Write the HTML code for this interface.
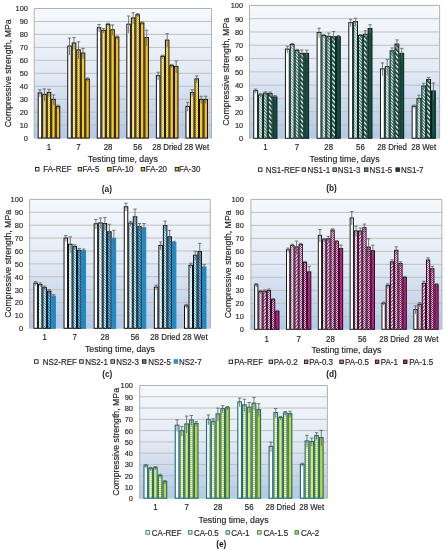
<!DOCTYPE html>
<html><head><meta charset="utf-8"><style>
html,body{margin:0;padding:0;background:#fff;width:446px;height:550px;overflow:hidden;}
svg{display:block;will-change:transform;}
text{stroke:#2a2a2a;stroke-width:0.16px;font-family:"Liberation Sans", sans-serif;}
</style></head><body>
<svg width="446" height="550" viewBox="0 0 446 550" font-family="'Liberation Sans', sans-serif"><defs>
<linearGradient id="bg" x1="0" y1="0" x2="0" y2="1">
 <stop offset="0" stop-color="#f6f9fc"/>
 <stop offset="0.5" stop-color="#e2eaf5"/>
 <stop offset="1" stop-color="#b4c8e4"/>
</linearGradient>
<pattern id="pa1" width="2" height="2" patternUnits="userSpaceOnUse"><rect width="2" height="2" fill="#f9e07a"/><rect width="1" height="1" fill="#f2cc48"/></pattern>
<pattern id="pa2" width="2" height="2" patternUnits="userSpaceOnUse"><rect width="2" height="2" fill="#efbc10"/><rect width="1" height="1" fill="#fae27a"/><rect x="1" y="1" width="1" height="1" fill="#fae27a"/></pattern>
<pattern id="pb1" width="2" height="2" patternUnits="userSpaceOnUse" patternTransform="rotate(-45)"><rect width="2" height="2" fill="#f0f8f5"/><rect width="0.8" height="2" fill="#58a08c"/></pattern>
<pattern id="pb2" width="2.2" height="2.2" patternUnits="userSpaceOnUse" patternTransform="rotate(-45)"><rect width="2.2" height="2.2" fill="#f2f8f6"/><rect width="1.2" height="2.2" fill="#2f7d69"/></pattern>
<pattern id="pb3" width="3.3" height="3.3" patternUnits="userSpaceOnUse" patternTransform="rotate(-45)"><rect width="3.3" height="3.3" fill="#f4f8f6"/><rect width="2" height="3.3" fill="#145848"/></pattern>
<pattern id="pc1" width="2.2" height="2.2" patternUnits="userSpaceOnUse" patternTransform="rotate(-45)"><rect width="2.2" height="2.2" fill="#f7fcfe"/><rect width="0.6" height="2.2" fill="#7cc9e6"/></pattern>
<pattern id="pc2" width="1.8" height="1.8" patternUnits="userSpaceOnUse" patternTransform="rotate(-45)"><rect width="1.8" height="1.8" fill="#e6f5fb"/><rect width="0.9" height="1.8" fill="#2ea6d6"/></pattern>
<pattern id="pc3" width="2" height="2" patternUnits="userSpaceOnUse" patternTransform="rotate(-45)"><rect width="2" height="2" fill="#1a74b0"/><rect width="0.65" height="2" fill="#a8dcf0"/></pattern>
<pattern id="pd1" width="1.7" height="1.7" patternUnits="userSpaceOnUse" patternTransform="rotate(-45)"><rect width="1.7" height="1.7" fill="#fdf2f8"/><rect width="0.65" height="1.7" fill="#dc62ae"/></pattern>
<pattern id="pd2" width="2.4" height="2.4" patternUnits="userSpaceOnUse" patternTransform="rotate(45)"><rect width="2.4" height="2.4" fill="#fdf4f9"/><rect width="1.2" height="2.4" fill="#c81c8a"/></pattern>
<pattern id="pd3" width="2" height="2" patternUnits="userSpaceOnUse"><rect width="2" height="2" fill="#fbe0f0"/><rect width="1" height="1" fill="#d6309a"/><rect x="1" y="1" width="1" height="1" fill="#d6309a"/></pattern>
<pattern id="pd4" width="2" height="2" patternUnits="userSpaceOnUse"><rect width="2" height="2" fill="#f0acd6"/><rect width="1" height="1" fill="#c41c88"/><rect x="1" y="1" width="1" height="1" fill="#c41c88"/></pattern>
<pattern id="pe1" width="2" height="2" patternUnits="userSpaceOnUse"><rect width="2" height="2" fill="#fbfbe8"/><rect width="2" height="1" fill="#dfe660"/></pattern>
<pattern id="pe2" width="2" height="2" patternUnits="userSpaceOnUse"><rect width="2" height="2" fill="#f6f7d2"/><rect width="2" height="1.1" fill="#cfdc3c"/></pattern>
</defs><rect width="446" height="550" fill="#fff"/><rect x="34.2" y="8.5" width="177.3" height="130" fill="url(#bg)"/>
<line x1="34.2" y1="125.14" x2="211.5" y2="125.14" stroke="#c0c0c0" stroke-width="1"/>
<line x1="34.2" y1="112.18" x2="211.5" y2="112.18" stroke="#c0c0c0" stroke-width="1"/>
<line x1="34.2" y1="99.22" x2="211.5" y2="99.22" stroke="#c0c0c0" stroke-width="1"/>
<line x1="34.2" y1="86.26" x2="211.5" y2="86.26" stroke="#c0c0c0" stroke-width="1"/>
<line x1="34.2" y1="73.3" x2="211.5" y2="73.3" stroke="#c0c0c0" stroke-width="1"/>
<line x1="34.2" y1="60.34" x2="211.5" y2="60.34" stroke="#c0c0c0" stroke-width="1"/>
<line x1="34.2" y1="47.38" x2="211.5" y2="47.38" stroke="#c0c0c0" stroke-width="1"/>
<line x1="34.2" y1="34.42" x2="211.5" y2="34.42" stroke="#c0c0c0" stroke-width="1"/>
<line x1="34.2" y1="21.46" x2="211.5" y2="21.46" stroke="#c0c0c0" stroke-width="1"/>
<path d="M34.2 138.5V8.5H211.5V138.5" fill="none" stroke="#a9a9a9" stroke-width="0.9"/>
<text transform="translate(28,141) scale(0.93,1)" font-size="8.06" text-anchor="end" fill="#262626">0</text>
<text transform="translate(28,128.04) scale(0.93,1)" font-size="8.06" text-anchor="end" fill="#262626">10</text>
<text transform="translate(28,115.08) scale(0.93,1)" font-size="8.06" text-anchor="end" fill="#262626">20</text>
<text transform="translate(28,102.12) scale(0.93,1)" font-size="8.06" text-anchor="end" fill="#262626">30</text>
<text transform="translate(28,89.16) scale(0.93,1)" font-size="8.06" text-anchor="end" fill="#262626">40</text>
<text transform="translate(28,76.2) scale(0.93,1)" font-size="8.06" text-anchor="end" fill="#262626">50</text>
<text transform="translate(28,63.24) scale(0.93,1)" font-size="8.06" text-anchor="end" fill="#262626">60</text>
<text transform="translate(28,50.28) scale(0.93,1)" font-size="8.06" text-anchor="end" fill="#262626">70</text>
<text transform="translate(28,37.32) scale(0.93,1)" font-size="8.06" text-anchor="end" fill="#262626">80</text>
<text transform="translate(28,24.36) scale(0.93,1)" font-size="8.06" text-anchor="end" fill="#262626">90</text>
<text transform="translate(28,11.4) scale(0.93,1)" font-size="8.06" text-anchor="end" fill="#262626">100</text>
<text transform="translate(10.66,73.3) rotate(-90) scale(0.93,1)" font-size="9.41" text-anchor="middle" fill="#1a1a1a">Compressive strength, MPa</text>
<rect x="38.2" y="92.85" width="3.51" height="45.25" fill="#ffffff" stroke="#111111" stroke-width="1"/>
<rect x="42.71" y="94.41" width="3.51" height="43.69" fill="url(#pa1)" stroke="#111111" stroke-width="1"/>
<rect x="47.22" y="92.46" width="3.51" height="45.64" fill="url(#pa2)" stroke="#111111" stroke-width="1"/>
<rect x="51.73" y="99.33" width="3.51" height="38.77" fill="#f8ca20" stroke="#111111" stroke-width="1"/>
<rect x="56.24" y="106.46" width="3.51" height="31.64" fill="#f4bd22" stroke="#111111" stroke-width="1"/>
<path d="M39.95 96.94V89.76M38.25 89.76H41.65" stroke="#646464" stroke-width="0.85" fill="none"/>
<path d="M44.46 100.96V88.85M42.76 88.85H46.16" stroke="#646464" stroke-width="0.85" fill="none"/>
<path d="M48.98 96.55V89.37M47.28 89.37H50.68" stroke="#646464" stroke-width="0.85" fill="none"/>
<path d="M53.49 104.72V94.94M51.79 94.94H55.19" stroke="#646464" stroke-width="0.85" fill="none"/>
<path d="M58 108.74V105.18M56.3 105.18H59.7" stroke="#646464" stroke-width="0.85" fill="none"/>
<text transform="translate(48.98,150.2) scale(0.93,1)" font-size="8.49" text-anchor="middle" fill="#1a1a1a">1</text>
<rect x="67.75" y="46.07" width="3.51" height="92.03" fill="#ffffff" stroke="#111111" stroke-width="1"/>
<rect x="72.26" y="42.96" width="3.51" height="95.14" fill="url(#pa1)" stroke="#111111" stroke-width="1"/>
<rect x="76.77" y="49.82" width="3.51" height="88.28" fill="url(#pa2)" stroke="#111111" stroke-width="1"/>
<rect x="81.28" y="53.06" width="3.51" height="85.04" fill="#f8ca20" stroke="#111111" stroke-width="1"/>
<rect x="85.79" y="79.11" width="3.51" height="58.99" fill="#f4bd22" stroke="#111111" stroke-width="1"/>
<path d="M69.5 55.08V38.05M67.8 38.05H71.2" stroke="#646464" stroke-width="0.85" fill="none"/>
<path d="M74.01 49.38V37.53M72.31 37.53H75.71" stroke="#646464" stroke-width="0.85" fill="none"/>
<path d="M78.53 58.84V41.81M76.83 41.81H80.23" stroke="#646464" stroke-width="0.85" fill="none"/>
<path d="M83.04 58.71V48.42M81.34 48.42H84.74" stroke="#646464" stroke-width="0.85" fill="none"/>
<path d="M87.55 81.26V77.97M85.85 77.97H89.25" stroke="#646464" stroke-width="0.85" fill="none"/>
<text transform="translate(78.53,150.2) scale(0.93,1)" font-size="8.49" text-anchor="middle" fill="#1a1a1a">7</text>
<rect x="97.3" y="27.66" width="3.51" height="110.44" fill="#ffffff" stroke="#111111" stroke-width="1"/>
<rect x="101.81" y="30.38" width="3.51" height="107.72" fill="url(#pa1)" stroke="#111111" stroke-width="1"/>
<rect x="106.32" y="24.29" width="3.51" height="113.81" fill="url(#pa2)" stroke="#111111" stroke-width="1"/>
<rect x="110.83" y="29.74" width="3.51" height="108.36" fill="#f8ca20" stroke="#111111" stroke-width="1"/>
<rect x="115.34" y="37.12" width="3.51" height="100.98" fill="#f4bd22" stroke="#111111" stroke-width="1"/>
<path d="M99.05 31.88V24.44M97.35 24.44H100.75" stroke="#646464" stroke-width="0.85" fill="none"/>
<path d="M103.56 33.18V28.59M101.86 28.59H105.26" stroke="#646464" stroke-width="0.85" fill="none"/>
<path d="M108.08 26.31V23.27M106.38 23.27H109.78" stroke="#646464" stroke-width="0.85" fill="none"/>
<path d="M112.59 35.51V24.96M110.89 24.96H114.29" stroke="#646464" stroke-width="0.85" fill="none"/>
<path d="M117.1 39.27V35.98M115.4 35.98H118.8" stroke="#646464" stroke-width="0.85" fill="none"/>
<text transform="translate(108.08,150.2) scale(0.93,1)" font-size="8.49" text-anchor="middle" fill="#1a1a1a">28</text>
<rect x="126.85" y="24.16" width="3.51" height="113.94" fill="#ffffff" stroke="#111111" stroke-width="1"/>
<rect x="131.36" y="17.94" width="3.51" height="120.16" fill="url(#pa1)" stroke="#111111" stroke-width="1"/>
<rect x="135.87" y="14.7" width="3.51" height="123.4" fill="url(#pa2)" stroke="#111111" stroke-width="1"/>
<rect x="140.38" y="23" width="3.51" height="115.1" fill="#f8ca20" stroke="#111111" stroke-width="1"/>
<rect x="144.89" y="37.51" width="3.51" height="100.59" fill="#f4bd22" stroke="#111111" stroke-width="1"/>
<path d="M128.6 33.31V16.02M126.9 16.02H130.3" stroke="#646464" stroke-width="0.85" fill="none"/>
<path d="M133.11 24.11V12.78M131.41 12.78H134.81" stroke="#646464" stroke-width="0.85" fill="none"/>
<path d="M137.62 16.72V13.68M135.93 13.68H139.32" stroke="#646464" stroke-width="0.85" fill="none"/>
<path d="M142.14 25.02V21.98M140.44 21.98H143.84" stroke="#646464" stroke-width="0.85" fill="none"/>
<path d="M146.65 45.75V30.27M144.95 30.27H148.35" stroke="#646464" stroke-width="0.85" fill="none"/>
<text transform="translate(137.62,150.2) scale(0.93,1)" font-size="8.49" text-anchor="middle" fill="#1a1a1a">56</text>
<rect x="156.4" y="75.61" width="3.51" height="62.49" fill="#ffffff" stroke="#111111" stroke-width="1"/>
<rect x="160.91" y="56.3" width="3.51" height="81.8" fill="url(#pa1)" stroke="#111111" stroke-width="1"/>
<rect x="165.42" y="40.1" width="3.51" height="98" fill="url(#pa2)" stroke="#111111" stroke-width="1"/>
<rect x="169.93" y="65.64" width="3.51" height="72.46" fill="#f8ca20" stroke="#111111" stroke-width="1"/>
<rect x="174.44" y="66.41" width="3.51" height="71.69" fill="#f4bd22" stroke="#111111" stroke-width="1"/>
<path d="M158.15 79.97V72.26M156.45 72.26H159.85" stroke="#646464" stroke-width="0.85" fill="none"/>
<path d="M162.66 58.45V55.16M160.96 55.16H164.36" stroke="#646464" stroke-width="0.85" fill="none"/>
<path d="M167.18 47.57V33.64M165.48 33.64H168.88" stroke="#646464" stroke-width="0.85" fill="none"/>
<path d="M171.69 67.65V64.62M169.99 64.62H173.39" stroke="#646464" stroke-width="0.85" fill="none"/>
<path d="M176.2 72.84V60.99M174.5 60.99H177.9" stroke="#646464" stroke-width="0.85" fill="none"/>
<text transform="translate(167.18,150.2) scale(0.93,1)" font-size="8.49" text-anchor="middle" fill="#1a1a1a">28 Dried</text>
<rect x="185.95" y="106.46" width="3.51" height="31.64" fill="#ffffff" stroke="#111111" stroke-width="1"/>
<rect x="190.46" y="92.59" width="3.51" height="45.51" fill="url(#pa1)" stroke="#111111" stroke-width="1"/>
<rect x="194.97" y="78.85" width="3.51" height="59.25" fill="url(#pa2)" stroke="#111111" stroke-width="1"/>
<rect x="199.48" y="99.46" width="3.51" height="38.64" fill="#f8ca20" stroke="#111111" stroke-width="1"/>
<rect x="203.99" y="99.46" width="3.51" height="38.64" fill="#f4bd22" stroke="#111111" stroke-width="1"/>
<path d="M187.7 111.46V102.46M186 102.46H189.4" stroke="#646464" stroke-width="0.85" fill="none"/>
<path d="M192.21 96.42V89.76M190.51 89.76H193.91" stroke="#646464" stroke-width="0.85" fill="none"/>
<path d="M196.72 82.82V75.89M195.03 75.89H198.42" stroke="#646464" stroke-width="0.85" fill="none"/>
<path d="M201.24 103.68V96.24M199.54 96.24H202.94" stroke="#646464" stroke-width="0.85" fill="none"/>
<path d="M205.75 103.68V96.24M204.05 96.24H207.45" stroke="#646464" stroke-width="0.85" fill="none"/>
<text transform="translate(196.72,150.2) scale(0.93,1)" font-size="8.49" text-anchor="middle" fill="#1a1a1a">28 Wet</text>
<text transform="translate(122.85,162.4) scale(0.93,1)" font-size="9.41" text-anchor="middle" fill="#1a1a1a">Testing time, days</text>
<rect x="35.5" y="167.45" width="3.5" height="3.5" fill="#ffffff" stroke="#111111" stroke-width="0.85"/>
<text transform="translate(43.3,172.3) scale(0.93,1)" font-size="8.6" fill="#1a1a1a">FA-REF</text>
<rect x="78.2" y="167.45" width="3.5" height="3.5" fill="#f6dc78" stroke="#111111" stroke-width="0.85"/>
<text transform="translate(82.6,172.3) scale(0.93,1)" font-size="8.6" fill="#1a1a1a">FA-5</text>
<rect x="107.6" y="167.45" width="3.5" height="3.5" fill="#f2c63c" stroke="#111111" stroke-width="0.85"/>
<text transform="translate(112.2,172.3) scale(0.93,1)" font-size="8.6" fill="#1a1a1a">FA-10</text>
<rect x="141.2" y="167.45" width="3.5" height="3.5" fill="#f8ca20" stroke="#111111" stroke-width="0.85"/>
<text transform="translate(145.7,172.3) scale(0.93,1)" font-size="8.6" fill="#1a1a1a">FA-20</text>
<rect x="175.2" y="167.45" width="3.5" height="3.5" fill="#f4bd22" stroke="#111111" stroke-width="0.85"/>
<text transform="translate(179.1,172.3) scale(0.93,1)" font-size="8.6" fill="#1a1a1a">FA-30</text>
<text x="101.8" y="191.6" font-size="8.3" font-weight="bold" font-family='Liberation Serif, serif' fill="#1a1a1a" style="stroke:none">(a)</text>
<rect x="249.5" y="5.4" width="190.1" height="133.3" fill="url(#bg)"/>
<line x1="249.5" y1="125.01" x2="439.6" y2="125.01" stroke="#c0c0c0" stroke-width="1"/>
<line x1="249.5" y1="111.72" x2="439.6" y2="111.72" stroke="#c0c0c0" stroke-width="1"/>
<line x1="249.5" y1="98.43" x2="439.6" y2="98.43" stroke="#c0c0c0" stroke-width="1"/>
<line x1="249.5" y1="85.14" x2="439.6" y2="85.14" stroke="#c0c0c0" stroke-width="1"/>
<line x1="249.5" y1="71.85" x2="439.6" y2="71.85" stroke="#c0c0c0" stroke-width="1"/>
<line x1="249.5" y1="58.56" x2="439.6" y2="58.56" stroke="#c0c0c0" stroke-width="1"/>
<line x1="249.5" y1="45.27" x2="439.6" y2="45.27" stroke="#c0c0c0" stroke-width="1"/>
<line x1="249.5" y1="31.98" x2="439.6" y2="31.98" stroke="#c0c0c0" stroke-width="1"/>
<line x1="249.5" y1="18.69" x2="439.6" y2="18.69" stroke="#c0c0c0" stroke-width="1"/>
<path d="M249.5 138.7V5.4H439.6V138.7" fill="none" stroke="#a9a9a9" stroke-width="0.9"/>
<text transform="translate(243.2,141.2) scale(0.93,1)" font-size="8.06" text-anchor="end" fill="#262626">0</text>
<text transform="translate(243.2,127.91) scale(0.93,1)" font-size="8.06" text-anchor="end" fill="#262626">10</text>
<text transform="translate(243.2,114.62) scale(0.93,1)" font-size="8.06" text-anchor="end" fill="#262626">20</text>
<text transform="translate(243.2,101.33) scale(0.93,1)" font-size="8.06" text-anchor="end" fill="#262626">30</text>
<text transform="translate(243.2,88.04) scale(0.93,1)" font-size="8.06" text-anchor="end" fill="#262626">40</text>
<text transform="translate(243.2,74.75) scale(0.93,1)" font-size="8.06" text-anchor="end" fill="#262626">50</text>
<text transform="translate(243.2,61.46) scale(0.93,1)" font-size="8.06" text-anchor="end" fill="#262626">60</text>
<text transform="translate(243.2,48.17) scale(0.93,1)" font-size="8.06" text-anchor="end" fill="#262626">70</text>
<text transform="translate(243.2,34.88) scale(0.93,1)" font-size="8.06" text-anchor="end" fill="#262626">80</text>
<text transform="translate(243.2,21.59) scale(0.93,1)" font-size="8.06" text-anchor="end" fill="#262626">90</text>
<text transform="translate(243.2,8.3) scale(0.93,1)" font-size="8.06" text-anchor="end" fill="#262626">100</text>
<text transform="translate(228.86,71.85) rotate(-90) scale(0.93,1)" font-size="9.41" text-anchor="middle" fill="#1a1a1a">Compressive strength, MPa</text>
<rect x="253.75" y="90.69" width="3.84" height="47.61" fill="#ffffff" stroke="#0f1f1a" stroke-width="1"/>
<rect x="258.59" y="94.94" width="3.84" height="43.36" fill="url(#pb1)" stroke="#0f1f1a" stroke-width="1"/>
<rect x="263.42" y="93.22" width="3.84" height="45.08" fill="url(#pb2)" stroke="#0f1f1a" stroke-width="1"/>
<rect x="268.26" y="93.61" width="3.84" height="44.69" fill="url(#pb3)" stroke="#0f1f1a" stroke-width="1"/>
<rect x="273.1" y="96.94" width="3.84" height="41.36" fill="#124f42" stroke="#0f1f1a" stroke-width="1"/>
<path d="M255.67 93.25V89.13M253.97 89.13H257.37" stroke="#646464" stroke-width="0.85" fill="none"/>
<path d="M260.5 97.24V93.65M258.8 93.65H262.2" stroke="#646464" stroke-width="0.85" fill="none"/>
<path d="M265.34 95.65V91.79M263.64 91.79H267.04" stroke="#646464" stroke-width="0.85" fill="none"/>
<path d="M270.18 96.18V92.05M268.48 92.05H271.88" stroke="#646464" stroke-width="0.85" fill="none"/>
<path d="M275.02 99.37V95.51M273.32 95.51H276.72" stroke="#646464" stroke-width="0.85" fill="none"/>
<text transform="translate(265.34,150.3) scale(0.93,1)" font-size="8.49" text-anchor="middle" fill="#1a1a1a">1</text>
<rect x="285.43" y="49.09" width="3.84" height="89.21" fill="#ffffff" stroke="#0f1f1a" stroke-width="1"/>
<rect x="290.27" y="44.44" width="3.84" height="93.86" fill="url(#pb1)" stroke="#0f1f1a" stroke-width="1"/>
<rect x="295.11" y="50.55" width="3.84" height="87.75" fill="url(#pb2)" stroke="#0f1f1a" stroke-width="1"/>
<rect x="299.94" y="53.35" width="3.84" height="84.95" fill="url(#pb3)" stroke="#0f1f1a" stroke-width="1"/>
<rect x="304.78" y="53.35" width="3.84" height="84.95" fill="#124f42" stroke="#0f1f1a" stroke-width="1"/>
<path d="M287.35 52.98V46.2M285.65 46.2H289.05" stroke="#646464" stroke-width="0.85" fill="none"/>
<path d="M292.19 46.47V43.41M290.49 43.41H293.89" stroke="#646464" stroke-width="0.85" fill="none"/>
<path d="M297.02 52.72V49.39M295.32 49.39H298.72" stroke="#646464" stroke-width="0.85" fill="none"/>
<path d="M301.86 57.64V50.05M300.16 50.05H303.56" stroke="#646464" stroke-width="0.85" fill="none"/>
<path d="M306.7 57.64V50.05M305 50.05H308.4" stroke="#646464" stroke-width="0.85" fill="none"/>
<text transform="translate(297.02,150.3) scale(0.93,1)" font-size="8.49" text-anchor="middle" fill="#1a1a1a">7</text>
<rect x="317.12" y="32.48" width="3.84" height="105.82" fill="#ffffff" stroke="#0f1f1a" stroke-width="1"/>
<rect x="321.95" y="35.54" width="3.84" height="102.76" fill="url(#pb1)" stroke="#0f1f1a" stroke-width="1"/>
<rect x="326.79" y="36.33" width="3.84" height="101.97" fill="url(#pb2)" stroke="#0f1f1a" stroke-width="1"/>
<rect x="331.63" y="36.73" width="3.84" height="101.57" fill="url(#pb3)" stroke="#0f1f1a" stroke-width="1"/>
<rect x="336.46" y="36.73" width="3.84" height="101.57" fill="#124f42" stroke="#0f1f1a" stroke-width="1"/>
<path d="M319.03 37.7V28.26M317.33 28.26H320.73" stroke="#646464" stroke-width="0.85" fill="none"/>
<path d="M323.87 37.7V34.37M322.17 34.37H325.57" stroke="#646464" stroke-width="0.85" fill="none"/>
<path d="M328.71 40.63V33.04M327.01 33.04H330.41" stroke="#646464" stroke-width="0.85" fill="none"/>
<path d="M333.55 43.02V31.45M331.85 31.45H335.25" stroke="#646464" stroke-width="0.85" fill="none"/>
<path d="M338.38 38.9V35.57M336.68 35.57H340.08" stroke="#646464" stroke-width="0.85" fill="none"/>
<text transform="translate(328.71,150.3) scale(0.93,1)" font-size="8.49" text-anchor="middle" fill="#1a1a1a">28</text>
<rect x="348.8" y="22.65" width="3.84" height="115.65" fill="#ffffff" stroke="#0f1f1a" stroke-width="1"/>
<rect x="353.64" y="21.58" width="3.84" height="116.72" fill="url(#pb1)" stroke="#0f1f1a" stroke-width="1"/>
<rect x="358.47" y="35.54" width="3.84" height="102.76" fill="url(#pb2)" stroke="#0f1f1a" stroke-width="1"/>
<rect x="363.31" y="34.21" width="3.84" height="104.09" fill="url(#pb3)" stroke="#0f1f1a" stroke-width="1"/>
<rect x="368.15" y="28.49" width="3.84" height="109.81" fill="#124f42" stroke="#0f1f1a" stroke-width="1"/>
<path d="M350.72 26.94V19.35M349.02 19.35H352.42" stroke="#646464" stroke-width="0.85" fill="none"/>
<path d="M355.55 26.01V18.16M353.85 18.16H357.25" stroke="#646464" stroke-width="0.85" fill="none"/>
<path d="M360.39 37.57V34.51M358.69 34.51H362.09" stroke="#646464" stroke-width="0.85" fill="none"/>
<path d="M365.23 38.63V30.78M363.53 30.78H366.93" stroke="#646464" stroke-width="0.85" fill="none"/>
<path d="M370.07 33.18V24.8M368.37 24.8H371.77" stroke="#646464" stroke-width="0.85" fill="none"/>
<text transform="translate(360.39,150.3) scale(0.93,1)" font-size="8.49" text-anchor="middle" fill="#1a1a1a">56</text>
<rect x="380.48" y="68.89" width="3.84" height="69.41" fill="#ffffff" stroke="#0f1f1a" stroke-width="1"/>
<rect x="385.32" y="66.64" width="3.84" height="71.66" fill="url(#pb1)" stroke="#0f1f1a" stroke-width="1"/>
<rect x="390.16" y="50.82" width="3.84" height="87.48" fill="url(#pb2)" stroke="#0f1f1a" stroke-width="1"/>
<rect x="394.99" y="44.04" width="3.84" height="94.26" fill="url(#pb3)" stroke="#0f1f1a" stroke-width="1"/>
<rect x="399.83" y="53.35" width="3.84" height="84.95" fill="#124f42" stroke="#0f1f1a" stroke-width="1"/>
<path d="M382.4 75.84V62.95M380.7 62.95H384.1" stroke="#646464" stroke-width="0.85" fill="none"/>
<path d="M387.24 74.91V59.36M385.54 59.36H388.94" stroke="#646464" stroke-width="0.85" fill="none"/>
<path d="M392.07 54.71V47.93M390.38 47.93H393.77" stroke="#646464" stroke-width="0.85" fill="none"/>
<path d="M396.91 49.13V39.95M395.21 39.95H398.61" stroke="#646464" stroke-width="0.85" fill="none"/>
<path d="M401.75 59.36V48.33M400.05 48.33H403.45" stroke="#646464" stroke-width="0.85" fill="none"/>
<text transform="translate(392.08,150.3) scale(0.93,1)" font-size="8.49" text-anchor="middle" fill="#1a1a1a">28 Dried</text>
<rect x="412.17" y="106.24" width="3.84" height="32.06" fill="#ffffff" stroke="#0f1f1a" stroke-width="1"/>
<rect x="417" y="98.66" width="3.84" height="39.64" fill="url(#pb1)" stroke="#0f1f1a" stroke-width="1"/>
<rect x="421.84" y="86.04" width="3.84" height="52.26" fill="url(#pb2)" stroke="#0f1f1a" stroke-width="1"/>
<rect x="426.68" y="79.53" width="3.84" height="58.77" fill="url(#pb3)" stroke="#0f1f1a" stroke-width="1"/>
<rect x="431.51" y="90.96" width="3.84" height="47.34" fill="#124f42" stroke="#0f1f1a" stroke-width="1"/>
<path d="M414.08 108.4V105.08M412.38 105.08H415.78" stroke="#646464" stroke-width="0.85" fill="none"/>
<path d="M418.92 103.09V95.24M417.22 95.24H420.62" stroke="#646464" stroke-width="0.85" fill="none"/>
<path d="M423.76 89.8V83.28M422.06 83.28H425.46" stroke="#646464" stroke-width="0.85" fill="none"/>
<path d="M428.6 82.49V77.56M426.9 77.56H430.3" stroke="#646464" stroke-width="0.85" fill="none"/>
<path d="M433.43 99.9V83.01M431.73 83.01H435.13" stroke="#646464" stroke-width="0.85" fill="none"/>
<text transform="translate(423.76,150.3) scale(0.93,1)" font-size="8.49" text-anchor="middle" fill="#1a1a1a">28 Wet</text>
<text transform="translate(344.55,162.4) scale(0.93,1)" font-size="9.41" text-anchor="middle" fill="#1a1a1a">Testing time, days</text>
<rect x="258.5" y="167.85" width="3.5" height="3.5" fill="#ffffff" stroke="#0f1f1a" stroke-width="0.85"/>
<text transform="translate(265.7,172.7) scale(0.93,1)" font-size="8.6" fill="#1a1a1a">NS1-REF</text>
<rect x="302.1" y="167.85" width="3.5" height="3.5" fill="#b9dccf" stroke="#0f1f1a" stroke-width="0.85"/>
<text transform="translate(307.5,172.7) scale(0.93,1)" font-size="8.6" fill="#1a1a1a">NS1-1</text>
<rect x="332.9" y="167.85" width="3.5" height="3.5" fill="#86bcac" stroke="#0f1f1a" stroke-width="0.85"/>
<text transform="translate(337.7,172.7) scale(0.93,1)" font-size="8.6" fill="#1a1a1a">NS1-3</text>
<rect x="364.5" y="167.85" width="3.5" height="3.5" fill="#5f9484" stroke="#0f1f1a" stroke-width="0.85"/>
<text transform="translate(369.6,172.7) scale(0.93,1)" font-size="8.6" fill="#1a1a1a">NS1-5</text>
<rect x="395.9" y="167.85" width="3.5" height="3.5" fill="#124f42" stroke="#0f1f1a" stroke-width="0.85"/>
<text transform="translate(400.9,172.7) scale(0.93,1)" font-size="8.6" fill="#1a1a1a">NS1-7</text>
<text x="326.2" y="191.1" font-size="8.3" font-weight="bold" font-family='Liberation Serif, serif' fill="#1a1a1a" style="stroke:none">(b)</text>
<rect x="29.6" y="199.4" width="180.7" height="129.3" fill="url(#bg)"/>
<line x1="29.6" y1="315.41" x2="210.3" y2="315.41" stroke="#c0c0c0" stroke-width="1"/>
<line x1="29.6" y1="302.52" x2="210.3" y2="302.52" stroke="#c0c0c0" stroke-width="1"/>
<line x1="29.6" y1="289.63" x2="210.3" y2="289.63" stroke="#c0c0c0" stroke-width="1"/>
<line x1="29.6" y1="276.74" x2="210.3" y2="276.74" stroke="#c0c0c0" stroke-width="1"/>
<line x1="29.6" y1="263.85" x2="210.3" y2="263.85" stroke="#c0c0c0" stroke-width="1"/>
<line x1="29.6" y1="250.96" x2="210.3" y2="250.96" stroke="#c0c0c0" stroke-width="1"/>
<line x1="29.6" y1="238.07" x2="210.3" y2="238.07" stroke="#c0c0c0" stroke-width="1"/>
<line x1="29.6" y1="225.18" x2="210.3" y2="225.18" stroke="#c0c0c0" stroke-width="1"/>
<line x1="29.6" y1="212.29" x2="210.3" y2="212.29" stroke="#c0c0c0" stroke-width="1"/>
<path d="M29.6 328.7V199.4H210.3V328.7" fill="none" stroke="#a9a9a9" stroke-width="0.9"/>
<text transform="translate(23.1,331.2) scale(0.93,1)" font-size="8.06" text-anchor="end" fill="#262626">0</text>
<text transform="translate(23.1,318.31) scale(0.93,1)" font-size="8.06" text-anchor="end" fill="#262626">10</text>
<text transform="translate(23.1,305.42) scale(0.93,1)" font-size="8.06" text-anchor="end" fill="#262626">20</text>
<text transform="translate(23.1,292.53) scale(0.93,1)" font-size="8.06" text-anchor="end" fill="#262626">30</text>
<text transform="translate(23.1,279.64) scale(0.93,1)" font-size="8.06" text-anchor="end" fill="#262626">40</text>
<text transform="translate(23.1,266.75) scale(0.93,1)" font-size="8.06" text-anchor="end" fill="#262626">50</text>
<text transform="translate(23.1,253.86) scale(0.93,1)" font-size="8.06" text-anchor="end" fill="#262626">60</text>
<text transform="translate(23.1,240.97) scale(0.93,1)" font-size="8.06" text-anchor="end" fill="#262626">70</text>
<text transform="translate(23.1,228.08) scale(0.93,1)" font-size="8.06" text-anchor="end" fill="#262626">80</text>
<text transform="translate(23.1,215.19) scale(0.93,1)" font-size="8.06" text-anchor="end" fill="#262626">90</text>
<text transform="translate(23.1,202.3) scale(0.93,1)" font-size="8.06" text-anchor="end" fill="#262626">100</text>
<text transform="translate(11.06,263.85) rotate(-90) scale(0.93,1)" font-size="9.41" text-anchor="middle" fill="#1a1a1a">Compressive strength, MPa</text>
<rect x="33.92" y="283.17" width="3.5" height="45.13" fill="#ffffff" stroke="#111111" stroke-width="1"/>
<rect x="38.42" y="284.46" width="3.5" height="43.84" fill="url(#pc1)" stroke="#111111" stroke-width="1"/>
<rect x="42.91" y="287.68" width="3.5" height="40.62" fill="url(#pc2)" stroke="#111111" stroke-width="1"/>
<rect x="47.41" y="291.16" width="3.5" height="37.14" fill="url(#pc3)" stroke="#111111" stroke-width="1"/>
<rect x="51.9" y="296.19" width="3.5" height="32.11" fill="#2088c2" stroke="#2088c2" stroke-width="1"/>
<path d="M35.67 285.7V281.64M33.97 281.64H37.37" stroke="#646464" stroke-width="0.85" fill="none"/>
<path d="M40.16 286.99V282.93M38.46 282.93H41.86" stroke="#646464" stroke-width="0.85" fill="none"/>
<path d="M44.66 290.21V286.15M42.96 286.15H46.36" stroke="#646464" stroke-width="0.85" fill="none"/>
<path d="M49.15 293.69V289.63M47.45 289.63H50.85" stroke="#646464" stroke-width="0.85" fill="none"/>
<path d="M53.65 298.72V294.66M51.95 294.66H55.35" stroke="#646464" stroke-width="0.85" fill="none"/>
<text transform="translate(44.66,339.8) scale(0.93,1)" font-size="8.49" text-anchor="middle" fill="#1a1a1a">1</text>
<rect x="64.04" y="238.05" width="3.5" height="90.25" fill="#ffffff" stroke="#111111" stroke-width="1"/>
<rect x="68.53" y="244.24" width="3.5" height="84.06" fill="url(#pc1)" stroke="#111111" stroke-width="1"/>
<rect x="73.03" y="246.56" width="3.5" height="81.74" fill="url(#pc2)" stroke="#111111" stroke-width="1"/>
<rect x="77.52" y="250.3" width="3.5" height="78" fill="url(#pc3)" stroke="#111111" stroke-width="1"/>
<rect x="82.02" y="250.69" width="3.5" height="77.61" fill="#2088c2" stroke="#2088c2" stroke-width="1"/>
<path d="M65.78 241.62V235.49M64.08 235.49H67.48" stroke="#646464" stroke-width="0.85" fill="none"/>
<path d="M70.28 252.7V236.78M68.58 236.78H71.98" stroke="#646464" stroke-width="0.85" fill="none"/>
<path d="M74.78 249.35V244.77M73.08 244.77H76.48" stroke="#646464" stroke-width="0.85" fill="none"/>
<path d="M79.27 253.22V248.38M77.57 248.38H80.97" stroke="#646464" stroke-width="0.85" fill="none"/>
<path d="M83.77 253.35V249.03M82.07 249.03H85.47" stroke="#646464" stroke-width="0.85" fill="none"/>
<text transform="translate(74.78,339.8) scale(0.93,1)" font-size="8.49" text-anchor="middle" fill="#1a1a1a">7</text>
<rect x="94.15" y="223.75" width="3.5" height="104.55" fill="#ffffff" stroke="#111111" stroke-width="1"/>
<rect x="98.65" y="222.84" width="3.5" height="105.46" fill="url(#pc1)" stroke="#111111" stroke-width="1"/>
<rect x="103.14" y="223.49" width="3.5" height="104.81" fill="url(#pc2)" stroke="#111111" stroke-width="1"/>
<rect x="107.64" y="231.74" width="3.5" height="96.56" fill="url(#pc3)" stroke="#111111" stroke-width="1"/>
<rect x="112.13" y="238.31" width="3.5" height="89.99" fill="#2088c2" stroke="#2088c2" stroke-width="1"/>
<path d="M95.9 228.98V219.51M94.2 219.51H97.6" stroke="#646464" stroke-width="0.85" fill="none"/>
<path d="M100.4 228.73V217.96M98.7 217.96H102.1" stroke="#646464" stroke-width="0.85" fill="none"/>
<path d="M104.89 230.4V217.57M103.19 217.57H106.59" stroke="#646464" stroke-width="0.85" fill="none"/>
<path d="M109.39 240.2V224.28M107.69 224.28H111.09" stroke="#646464" stroke-width="0.85" fill="none"/>
<path d="M113.88 247.29V230.34M112.18 230.34H115.58" stroke="#646464" stroke-width="0.85" fill="none"/>
<text transform="translate(104.89,339.8) scale(0.93,1)" font-size="8.49" text-anchor="middle" fill="#1a1a1a">28</text>
<rect x="124.27" y="206.73" width="3.5" height="121.57" fill="#ffffff" stroke="#111111" stroke-width="1"/>
<rect x="128.77" y="223.1" width="3.5" height="105.2" fill="url(#pc1)" stroke="#111111" stroke-width="1"/>
<rect x="133.26" y="216.79" width="3.5" height="111.51" fill="url(#pc2)" stroke="#111111" stroke-width="1"/>
<rect x="137.76" y="226.71" width="3.5" height="101.59" fill="url(#pc3)" stroke="#111111" stroke-width="1"/>
<rect x="142.25" y="227.74" width="3.5" height="100.56" fill="#2088c2" stroke="#2088c2" stroke-width="1"/>
<path d="M126.02 211.2V203.27M124.32 203.27H127.72" stroke="#646464" stroke-width="0.85" fill="none"/>
<path d="M130.51 225.89V221.31M128.81 221.31H132.21" stroke="#646464" stroke-width="0.85" fill="none"/>
<path d="M135.01 225.5V209.07M133.31 209.07H136.71" stroke="#646464" stroke-width="0.85" fill="none"/>
<path d="M139.5 230.92V223.5M137.8 223.5H141.2" stroke="#646464" stroke-width="0.85" fill="none"/>
<path d="M144 232.98V223.5M142.3 223.5H145.7" stroke="#646464" stroke-width="0.85" fill="none"/>
<text transform="translate(135.01,339.8) scale(0.93,1)" font-size="8.49" text-anchor="middle" fill="#1a1a1a">56</text>
<rect x="154.39" y="287.17" width="3.5" height="41.13" fill="#ffffff" stroke="#111111" stroke-width="1"/>
<rect x="158.88" y="245.4" width="3.5" height="82.9" fill="url(#pc1)" stroke="#111111" stroke-width="1"/>
<rect x="163.38" y="225.55" width="3.5" height="102.75" fill="url(#pc2)" stroke="#111111" stroke-width="1"/>
<rect x="167.87" y="236.77" width="3.5" height="91.53" fill="url(#pc3)" stroke="#111111" stroke-width="1"/>
<rect x="172.37" y="242.44" width="3.5" height="85.86" fill="#2088c2" stroke="#2088c2" stroke-width="1"/>
<path d="M156.13 290.21V285.12M154.43 285.12H157.83" stroke="#646464" stroke-width="0.85" fill="none"/>
<path d="M160.63 249.87V241.94M158.93 241.94H162.33" stroke="#646464" stroke-width="0.85" fill="none"/>
<path d="M165.13 231.05V221.06M163.43 221.06H166.83" stroke="#646464" stroke-width="0.85" fill="none"/>
<path d="M169.62 244.07V230.46M167.92 230.46H171.32" stroke="#646464" stroke-width="0.85" fill="none"/>
<path d="M174.12 244.58V241.29M172.42 241.29H175.82" stroke="#646464" stroke-width="0.85" fill="none"/>
<text transform="translate(165.13,339.8) scale(0.93,1)" font-size="8.49" text-anchor="middle" fill="#1a1a1a">28 Dried</text>
<rect x="184.5" y="305.86" width="3.5" height="22.44" fill="#ffffff" stroke="#111111" stroke-width="1"/>
<rect x="189" y="265.25" width="3.5" height="63.05" fill="url(#pc1)" stroke="#111111" stroke-width="1"/>
<rect x="193.49" y="255.2" width="3.5" height="73.1" fill="url(#pc2)" stroke="#111111" stroke-width="1"/>
<rect x="197.99" y="251.59" width="3.5" height="76.71" fill="url(#pc3)" stroke="#111111" stroke-width="1"/>
<rect x="202.48" y="266.93" width="3.5" height="61.37" fill="#2088c2" stroke="#2088c2" stroke-width="1"/>
<path d="M186.25 308.26V304.45M184.55 304.45H187.95" stroke="#646464" stroke-width="0.85" fill="none"/>
<path d="M190.75 268.3V263.21M189.05 263.21H192.45" stroke="#646464" stroke-width="0.85" fill="none"/>
<path d="M195.24 260.05V251.35M193.54 251.35H196.94" stroke="#646464" stroke-width="0.85" fill="none"/>
<path d="M199.74 260.82V243.35M198.04 243.35H201.44" stroke="#646464" stroke-width="0.85" fill="none"/>
<path d="M204.23 270.36V264.49M202.53 264.49H205.93" stroke="#646464" stroke-width="0.85" fill="none"/>
<text transform="translate(195.24,339.8) scale(0.93,1)" font-size="8.49" text-anchor="middle" fill="#1a1a1a">28 Wet</text>
<text transform="translate(119.95,351.8) scale(0.93,1)" font-size="9.41" text-anchor="middle" fill="#1a1a1a">Testing time, days</text>
<rect x="34.6" y="359.75" width="3.5" height="3.5" fill="#ffffff" stroke="#111111" stroke-width="0.85"/>
<text transform="translate(42.7,364.6) scale(0.93,1)" font-size="8.6" fill="#1a1a1a">NS2-REF</text>
<rect x="79.7" y="359.75" width="3.5" height="3.5" fill="#cfe9f3" stroke="#111111" stroke-width="0.85"/>
<text transform="translate(85.2,364.6) scale(0.93,1)" font-size="8.6" fill="#1a1a1a">NS2-1</text>
<rect x="110.9" y="359.75" width="3.5" height="3.5" fill="#8dcfe6" stroke="#111111" stroke-width="0.85"/>
<text transform="translate(116.2,364.6) scale(0.93,1)" font-size="8.6" fill="#1a1a1a">NS2-3</text>
<rect x="142.5" y="359.75" width="3.5" height="3.5" fill="#3f93c4" stroke="#111111" stroke-width="0.85"/>
<text transform="translate(148.2,364.6) scale(0.93,1)" font-size="8.6" fill="#1a1a1a">NS2-5</text>
<rect x="174.1" y="359.75" width="3.5" height="3.5" fill="#2a96cf" stroke="#2088c2" stroke-width="0.85"/>
<text transform="translate(179,364.6) scale(0.93,1)" font-size="8.6" fill="#1a1a1a">NS2-7</text>
<text x="102.2" y="377.1" font-size="8.3" font-weight="bold" font-family='Liberation Serif, serif' fill="#1a1a1a" style="stroke:none">(c)</text>
<rect x="250.9" y="199.4" width="191" height="130.3" fill="url(#bg)"/>
<line x1="250.9" y1="316.31" x2="441.9" y2="316.31" stroke="#c0c0c0" stroke-width="1"/>
<line x1="250.9" y1="303.32" x2="441.9" y2="303.32" stroke="#c0c0c0" stroke-width="1"/>
<line x1="250.9" y1="290.33" x2="441.9" y2="290.33" stroke="#c0c0c0" stroke-width="1"/>
<line x1="250.9" y1="277.34" x2="441.9" y2="277.34" stroke="#c0c0c0" stroke-width="1"/>
<line x1="250.9" y1="264.35" x2="441.9" y2="264.35" stroke="#c0c0c0" stroke-width="1"/>
<line x1="250.9" y1="251.36" x2="441.9" y2="251.36" stroke="#c0c0c0" stroke-width="1"/>
<line x1="250.9" y1="238.37" x2="441.9" y2="238.37" stroke="#c0c0c0" stroke-width="1"/>
<line x1="250.9" y1="225.38" x2="441.9" y2="225.38" stroke="#c0c0c0" stroke-width="1"/>
<line x1="250.9" y1="212.39" x2="441.9" y2="212.39" stroke="#c0c0c0" stroke-width="1"/>
<path d="M250.9 329.7V199.4H441.9V329.7" fill="none" stroke="#a9a9a9" stroke-width="0.9"/>
<text transform="translate(243.9,332.2) scale(0.93,1)" font-size="8.06" text-anchor="end" fill="#262626">0</text>
<text transform="translate(243.9,319.21) scale(0.93,1)" font-size="8.06" text-anchor="end" fill="#262626">10</text>
<text transform="translate(243.9,306.22) scale(0.93,1)" font-size="8.06" text-anchor="end" fill="#262626">20</text>
<text transform="translate(243.9,293.23) scale(0.93,1)" font-size="8.06" text-anchor="end" fill="#262626">30</text>
<text transform="translate(243.9,280.24) scale(0.93,1)" font-size="8.06" text-anchor="end" fill="#262626">40</text>
<text transform="translate(243.9,267.25) scale(0.93,1)" font-size="8.06" text-anchor="end" fill="#262626">50</text>
<text transform="translate(243.9,254.26) scale(0.93,1)" font-size="8.06" text-anchor="end" fill="#262626">60</text>
<text transform="translate(243.9,241.27) scale(0.93,1)" font-size="8.06" text-anchor="end" fill="#262626">70</text>
<text transform="translate(243.9,228.28) scale(0.93,1)" font-size="8.06" text-anchor="end" fill="#262626">80</text>
<text transform="translate(243.9,215.29) scale(0.93,1)" font-size="8.06" text-anchor="end" fill="#262626">90</text>
<text transform="translate(243.9,202.3) scale(0.93,1)" font-size="8.06" text-anchor="end" fill="#262626">100</text>
<text transform="translate(230.86,264.35) rotate(-90) scale(0.93,1)" font-size="9.41" text-anchor="middle" fill="#1a1a1a">Compressive strength, MPa</text>
<rect x="254.64" y="284.83" width="3.27" height="44.5" fill="#ffffff" stroke="#111111" stroke-width="0.95"/>
<rect x="258.86" y="291.58" width="3.27" height="37.74" fill="url(#pd1)" stroke="#111111" stroke-width="0.95"/>
<rect x="263.08" y="291.19" width="3.27" height="38.13" fill="url(#pd2)" stroke="#111111" stroke-width="0.95"/>
<rect x="267.29" y="290.55" width="3.27" height="38.78" fill="url(#pd3)" stroke="#111111" stroke-width="0.95"/>
<rect x="271.51" y="299.64" width="3.27" height="29.69" fill="url(#pd4)" stroke="#111111" stroke-width="0.95"/>
<rect x="275.72" y="311.33" width="3.27" height="18" fill="#c01c84" stroke="#111111" stroke-width="0.95"/>
<path d="M256.28 287.03V283.58M254.58 283.58H257.98" stroke="#646464" stroke-width="0.85" fill="none"/>
<path d="M260.49 293.66V290.46M258.79 290.46H262.19" stroke="#646464" stroke-width="0.85" fill="none"/>
<path d="M264.71 293.4V289.94M263.01 289.94H266.41" stroke="#646464" stroke-width="0.85" fill="none"/>
<path d="M268.92 293.01V289.03M267.22 289.03H270.62" stroke="#646464" stroke-width="0.85" fill="none"/>
<path d="M273.14 301.71V298.51M271.44 298.51H274.84" stroke="#646464" stroke-width="0.85" fill="none"/>
<path d="M277.36 313.27V310.33M275.66 310.33H279.06" stroke="#646464" stroke-width="0.85" fill="none"/>
<text transform="translate(266.82,341.7) scale(0.93,1)" font-size="8.49" text-anchor="middle" fill="#1a1a1a">1</text>
<rect x="286.48" y="249.76" width="3.27" height="79.57" fill="#ffffff" stroke="#111111" stroke-width="0.95"/>
<rect x="290.69" y="245.34" width="3.27" height="83.98" fill="url(#pd1)" stroke="#111111" stroke-width="0.95"/>
<rect x="294.91" y="246.9" width="3.27" height="82.43" fill="url(#pd2)" stroke="#111111" stroke-width="0.95"/>
<rect x="299.12" y="244.43" width="3.27" height="84.89" fill="url(#pd3)" stroke="#111111" stroke-width="0.95"/>
<rect x="303.34" y="262.49" width="3.27" height="66.84" fill="url(#pd4)" stroke="#111111" stroke-width="0.95"/>
<rect x="307.56" y="271.84" width="3.27" height="57.49" fill="#c01c84" stroke="#111111" stroke-width="0.95"/>
<path d="M288.11 252.35V248.11M286.41 248.11H289.81" stroke="#646464" stroke-width="0.85" fill="none"/>
<path d="M292.33 247.41V244.22M290.63 244.22H294.03" stroke="#646464" stroke-width="0.85" fill="none"/>
<path d="M296.54 253.65V241.1M294.84 241.1H298.24" stroke="#646464" stroke-width="0.85" fill="none"/>
<path d="M300.76 246.51V243.31M299.06 243.31H302.46" stroke="#646464" stroke-width="0.85" fill="none"/>
<path d="M304.97 264.56V261.36M303.27 261.36H306.67" stroke="#646464" stroke-width="0.85" fill="none"/>
<path d="M309.19 278.33V266.3M307.49 266.3H310.89" stroke="#646464" stroke-width="0.85" fill="none"/>
<text transform="translate(298.65,341.7) scale(0.93,1)" font-size="8.49" text-anchor="middle" fill="#1a1a1a">7</text>
<rect x="318.31" y="235.34" width="3.27" height="93.99" fill="#ffffff" stroke="#111111" stroke-width="0.95"/>
<rect x="322.53" y="239.75" width="3.27" height="89.57" fill="url(#pd1)" stroke="#111111" stroke-width="0.95"/>
<rect x="326.74" y="238.72" width="3.27" height="90.61" fill="url(#pd2)" stroke="#111111" stroke-width="0.95"/>
<rect x="330.96" y="230.01" width="3.27" height="99.31" fill="url(#pd3)" stroke="#111111" stroke-width="0.95"/>
<rect x="335.17" y="241.7" width="3.27" height="87.62" fill="url(#pd4)" stroke="#111111" stroke-width="0.95"/>
<rect x="339.39" y="248.46" width="3.27" height="80.87" fill="#c01c84" stroke="#111111" stroke-width="0.95"/>
<path d="M319.94 242.09V229.54M318.24 229.54H321.64" stroke="#646464" stroke-width="0.85" fill="none"/>
<path d="M324.16 241.83V238.63M322.46 238.63H325.86" stroke="#646464" stroke-width="0.85" fill="none"/>
<path d="M328.38 241.96V236.42M326.68 236.42H330.08" stroke="#646464" stroke-width="0.85" fill="none"/>
<path d="M332.59 232.09V228.89M330.89 228.89H334.29" stroke="#646464" stroke-width="0.85" fill="none"/>
<path d="M336.81 243.78V240.58M335.11 240.58H338.51" stroke="#646464" stroke-width="0.85" fill="none"/>
<path d="M341.02 252.74V245.12M339.32 245.12H342.72" stroke="#646464" stroke-width="0.85" fill="none"/>
<text transform="translate(330.48,341.7) scale(0.93,1)" font-size="8.49" text-anchor="middle" fill="#1a1a1a">28</text>
<rect x="350.14" y="217.93" width="3.27" height="111.39" fill="#ffffff" stroke="#111111" stroke-width="0.95"/>
<rect x="354.36" y="230.92" width="3.27" height="98.4" fill="url(#pd1)" stroke="#111111" stroke-width="0.95"/>
<rect x="358.58" y="230.92" width="3.27" height="98.4" fill="url(#pd2)" stroke="#111111" stroke-width="0.95"/>
<rect x="362.79" y="227.67" width="3.27" height="101.65" fill="url(#pd3)" stroke="#111111" stroke-width="0.95"/>
<rect x="367.01" y="247.03" width="3.27" height="82.3" fill="url(#pd4)" stroke="#111111" stroke-width="0.95"/>
<rect x="371.22" y="250.67" width="3.27" height="78.66" fill="#c01c84" stroke="#111111" stroke-width="0.95"/>
<path d="M351.78 225.2V211.61M350.08 211.61H353.48" stroke="#646464" stroke-width="0.85" fill="none"/>
<path d="M355.99 236.63V226.16M354.29 226.16H357.69" stroke="#646464" stroke-width="0.85" fill="none"/>
<path d="M360.21 234.81V227.98M358.51 227.98H361.91" stroke="#646464" stroke-width="0.85" fill="none"/>
<path d="M364.42 232.22V224.08M362.72 224.08H366.12" stroke="#646464" stroke-width="0.85" fill="none"/>
<path d="M368.64 256.25V238.76M366.94 238.76H370.34" stroke="#646464" stroke-width="0.85" fill="none"/>
<path d="M372.86 257.16V245.12M371.16 245.12H374.56" stroke="#646464" stroke-width="0.85" fill="none"/>
<text transform="translate(362.32,341.7) scale(0.93,1)" font-size="8.49" text-anchor="middle" fill="#1a1a1a">56</text>
<rect x="381.98" y="303.15" width="3.27" height="26.18" fill="#ffffff" stroke="#111111" stroke-width="0.95"/>
<rect x="386.19" y="285.35" width="3.27" height="43.98" fill="url(#pd1)" stroke="#111111" stroke-width="0.95"/>
<rect x="390.41" y="261.84" width="3.27" height="67.49" fill="url(#pd2)" stroke="#111111" stroke-width="0.95"/>
<rect x="394.62" y="250.28" width="3.27" height="79.05" fill="url(#pd3)" stroke="#111111" stroke-width="0.95"/>
<rect x="398.84" y="263.53" width="3.27" height="65.8" fill="url(#pd4)" stroke="#111111" stroke-width="0.95"/>
<rect x="403.06" y="277.56" width="3.27" height="51.77" fill="#c01c84" stroke="#111111" stroke-width="0.95"/>
<path d="M383.61 305.22V302.02M381.91 302.02H385.31" stroke="#646464" stroke-width="0.85" fill="none"/>
<path d="M387.83 287.81V283.84M386.13 283.84H389.53" stroke="#646464" stroke-width="0.85" fill="none"/>
<path d="M392.04 264.82V259.8M390.34 259.8H393.74" stroke="#646464" stroke-width="0.85" fill="none"/>
<path d="M396.26 254.69V246.81M394.56 246.81H397.96" stroke="#646464" stroke-width="0.85" fill="none"/>
<path d="M400.47 266.25V261.75M398.77 261.75H402.17" stroke="#646464" stroke-width="0.85" fill="none"/>
<path d="M404.69 279.63V276.43M402.99 276.43H406.39" stroke="#646464" stroke-width="0.85" fill="none"/>
<text transform="translate(394.15,341.7) scale(0.93,1)" font-size="8.49" text-anchor="middle" fill="#1a1a1a">28 Dried</text>
<rect x="413.81" y="309.51" width="3.27" height="19.81" fill="#ffffff" stroke="#111111" stroke-width="0.95"/>
<rect x="418.03" y="304.31" width="3.27" height="25.01" fill="url(#pd1)" stroke="#111111" stroke-width="0.95"/>
<rect x="422.24" y="283.27" width="3.27" height="46.05" fill="url(#pd2)" stroke="#111111" stroke-width="0.95"/>
<rect x="426.46" y="260.02" width="3.27" height="69.31" fill="url(#pd3)" stroke="#111111" stroke-width="0.95"/>
<rect x="430.67" y="268.72" width="3.27" height="60.6" fill="url(#pd4)" stroke="#111111" stroke-width="0.95"/>
<rect x="434.89" y="284.7" width="3.27" height="44.63" fill="#c01c84" stroke="#111111" stroke-width="0.95"/>
<path d="M415.44 314.05V305.92M413.74 305.92H417.14" stroke="#646464" stroke-width="0.85" fill="none"/>
<path d="M419.66 306.91V302.67M417.96 302.67H421.36" stroke="#646464" stroke-width="0.85" fill="none"/>
<path d="M423.88 286.25V281.24M422.18 281.24H425.58" stroke="#646464" stroke-width="0.85" fill="none"/>
<path d="M428.09 263.13V257.86M426.39 257.86H429.79" stroke="#646464" stroke-width="0.85" fill="none"/>
<path d="M432.31 272.1V266.3M430.61 266.3H434.01" stroke="#646464" stroke-width="0.85" fill="none"/>
<path d="M436.52 286.77V283.58M434.82 283.58H438.22" stroke="#646464" stroke-width="0.85" fill="none"/>
<text transform="translate(425.98,341.7) scale(0.93,1)" font-size="8.49" text-anchor="middle" fill="#1a1a1a">28 Wet</text>
<text transform="translate(346.4,353.4) scale(0.93,1)" font-size="9.41" text-anchor="middle" fill="#1a1a1a">Testing time, days</text>
<rect x="229.1" y="360.05" width="3.5" height="3.5" fill="#ffffff" stroke="#111111" stroke-width="0.85"/>
<text transform="translate(234.3,364.9) scale(0.93,1)" font-size="8.6" fill="#1a1a1a">PA-REF</text>
<rect x="269.1" y="360.05" width="3.5" height="3.5" fill="#eab4d6" stroke="#111111" stroke-width="0.85"/>
<text transform="translate(273.8,364.9) scale(0.93,1)" font-size="8.6" fill="#1a1a1a">PA-0.2</text>
<rect x="304.4" y="360.05" width="3.5" height="3.5" fill="#d872b4" stroke="#111111" stroke-width="0.85"/>
<text transform="translate(309.2,364.9) scale(0.93,1)" font-size="8.6" fill="#1a1a1a">PA-0.3</text>
<rect x="339.8" y="360.05" width="3.5" height="3.5" fill="#d866b2" stroke="#111111" stroke-width="0.85"/>
<text transform="translate(345.1,364.9) scale(0.93,1)" font-size="8.6" fill="#1a1a1a">PA-0.5</text>
<rect x="375.4" y="360.05" width="3.5" height="3.5" fill="#c84aa0" stroke="#111111" stroke-width="0.85"/>
<text transform="translate(380.7,364.9) scale(0.93,1)" font-size="8.6" fill="#1a1a1a">PA-1</text>
<rect x="403.5" y="360.05" width="3.5" height="3.5" fill="#c01c84" stroke="#111111" stroke-width="0.85"/>
<text transform="translate(409.3,364.9) scale(0.93,1)" font-size="8.6" fill="#1a1a1a">PA-1.5</text>
<text x="326.2" y="377.1" font-size="8.3" font-weight="bold" font-family='Liberation Serif, serif' fill="#1a1a1a" style="stroke:none">(d)</text>
<rect x="139.7" y="385.5" width="187.7" height="113.2" fill="url(#bg)"/>
<line x1="139.7" y1="487.02" x2="327.4" y2="487.02" stroke="#c0c0c0" stroke-width="1"/>
<line x1="139.7" y1="475.74" x2="327.4" y2="475.74" stroke="#c0c0c0" stroke-width="1"/>
<line x1="139.7" y1="464.46" x2="327.4" y2="464.46" stroke="#c0c0c0" stroke-width="1"/>
<line x1="139.7" y1="453.18" x2="327.4" y2="453.18" stroke="#c0c0c0" stroke-width="1"/>
<line x1="139.7" y1="441.9" x2="327.4" y2="441.9" stroke="#c0c0c0" stroke-width="1"/>
<line x1="139.7" y1="430.62" x2="327.4" y2="430.62" stroke="#c0c0c0" stroke-width="1"/>
<line x1="139.7" y1="419.34" x2="327.4" y2="419.34" stroke="#c0c0c0" stroke-width="1"/>
<line x1="139.7" y1="408.06" x2="327.4" y2="408.06" stroke="#c0c0c0" stroke-width="1"/>
<line x1="139.7" y1="396.78" x2="327.4" y2="396.78" stroke="#c0c0c0" stroke-width="1"/>
<path d="M139.7 498.7V385.5H327.4V498.7" fill="none" stroke="#a9a9a9" stroke-width="0.9"/>
<text transform="translate(133,501.2) scale(0.93,1)" font-size="8.06" text-anchor="end" fill="#262626">0</text>
<text transform="translate(133,489.92) scale(0.93,1)" font-size="8.06" text-anchor="end" fill="#262626">10</text>
<text transform="translate(133,478.64) scale(0.93,1)" font-size="8.06" text-anchor="end" fill="#262626">20</text>
<text transform="translate(133,467.36) scale(0.93,1)" font-size="8.06" text-anchor="end" fill="#262626">30</text>
<text transform="translate(133,456.08) scale(0.93,1)" font-size="8.06" text-anchor="end" fill="#262626">40</text>
<text transform="translate(133,444.8) scale(0.93,1)" font-size="8.06" text-anchor="end" fill="#262626">50</text>
<text transform="translate(133,433.52) scale(0.93,1)" font-size="8.06" text-anchor="end" fill="#262626">60</text>
<text transform="translate(133,422.24) scale(0.93,1)" font-size="8.06" text-anchor="end" fill="#262626">70</text>
<text transform="translate(133,410.96) scale(0.93,1)" font-size="8.06" text-anchor="end" fill="#262626">80</text>
<text transform="translate(133,399.68) scale(0.93,1)" font-size="8.06" text-anchor="end" fill="#262626">90</text>
<text transform="translate(133,388.4) scale(0.93,1)" font-size="8.06" text-anchor="end" fill="#262626">100</text>
<text transform="translate(119.26,441.9) rotate(-90) scale(0.93,1)" font-size="9.41" text-anchor="middle" fill="#1a1a1a">Compressive strength, MPa</text>
<rect x="143.98" y="465.71" width="3.63" height="32.51" fill="#ffffff" stroke="#1f6f74" stroke-width="1.15"/>
<rect x="148.75" y="468.53" width="3.63" height="29.69" fill="url(#pe1)" stroke="#1f6f74" stroke-width="1.15"/>
<rect x="153.53" y="467.63" width="3.63" height="30.6" fill="#dfe56c" stroke="#1f6f74" stroke-width="1.15"/>
<rect x="158.3" y="475.53" width="3.63" height="22.7" fill="url(#pe2)" stroke="#1f6f74" stroke-width="1.15"/>
<rect x="163.08" y="481.73" width="3.63" height="16.5" fill="#c0d236" stroke="#1f6f74" stroke-width="1.15"/>
<path d="M145.79 468V464.57M144.09 464.57H147.49" stroke="#646464" stroke-width="0.85" fill="none"/>
<path d="M150.57 470.82V467.39M148.87 467.39H152.27" stroke="#646464" stroke-width="0.85" fill="none"/>
<path d="M155.34 469.92V466.49M153.64 466.49H157.04" stroke="#646464" stroke-width="0.85" fill="none"/>
<path d="M160.12 477.93V474.27M158.42 474.27H161.82" stroke="#646464" stroke-width="0.85" fill="none"/>
<path d="M164.89 484.02V480.59M163.19 480.59H166.59" stroke="#646464" stroke-width="0.85" fill="none"/>
<text transform="translate(155.34,510.4) scale(0.93,1)" font-size="8.49" text-anchor="middle" fill="#1a1a1a">1</text>
<rect x="175.26" y="425.22" width="3.63" height="73.01" fill="#ffffff" stroke="#1f6f74" stroke-width="1.15"/>
<rect x="180.04" y="430.63" width="3.63" height="67.59" fill="url(#pe1)" stroke="#1f6f74" stroke-width="1.15"/>
<rect x="184.81" y="423.98" width="3.63" height="74.25" fill="#dfe56c" stroke="#1f6f74" stroke-width="1.15"/>
<rect x="189.59" y="420.03" width="3.63" height="78.2" fill="url(#pe2)" stroke="#1f6f74" stroke-width="1.15"/>
<rect x="194.36" y="423.41" width="3.63" height="74.81" fill="#c0d236" stroke="#1f6f74" stroke-width="1.15"/>
<path d="M177.07 431.68V419.9M175.37 419.9H178.77" stroke="#646464" stroke-width="0.85" fill="none"/>
<path d="M181.85 436.08V426.33M180.15 426.33H183.55" stroke="#646464" stroke-width="0.85" fill="none"/>
<path d="M186.62 433.03V416.07M184.93 416.07H188.32" stroke="#646464" stroke-width="0.85" fill="none"/>
<path d="M191.4 425.7V415.5M189.7 415.5H193.1" stroke="#646464" stroke-width="0.85" fill="none"/>
<path d="M196.18 426.38V421.6M194.48 421.6H197.88" stroke="#646464" stroke-width="0.85" fill="none"/>
<text transform="translate(186.62,510.4) scale(0.93,1)" font-size="8.49" text-anchor="middle" fill="#1a1a1a">7</text>
<rect x="206.54" y="419.35" width="3.63" height="78.87" fill="#ffffff" stroke="#1f6f74" stroke-width="1.15"/>
<rect x="211.32" y="421.27" width="3.63" height="76.96" fill="url(#pe1)" stroke="#1f6f74" stroke-width="1.15"/>
<rect x="216.1" y="413.94" width="3.63" height="84.29" fill="#dfe56c" stroke="#1f6f74" stroke-width="1.15"/>
<rect x="220.87" y="408.63" width="3.63" height="89.59" fill="url(#pe2)" stroke="#1f6f74" stroke-width="1.15"/>
<rect x="225.65" y="407.73" width="3.63" height="90.49" fill="#c0d236" stroke="#1f6f74" stroke-width="1.15"/>
<path d="M208.36 424.91V414.94M206.66 414.94H210.06" stroke="#646464" stroke-width="0.85" fill="none"/>
<path d="M213.13 424.91V418.78M211.43 418.78H214.83" stroke="#646464" stroke-width="0.85" fill="none"/>
<path d="M217.91 420.96V408.06M216.21 408.06H219.61" stroke="#646464" stroke-width="0.85" fill="none"/>
<path d="M222.68 412.73V405.69M220.98 405.69H224.38" stroke="#646464" stroke-width="0.85" fill="none"/>
<path d="M227.46 410.02V406.59M225.76 406.59H229.16" stroke="#646464" stroke-width="0.85" fill="none"/>
<text transform="translate(217.91,510.4) scale(0.93,1)" font-size="8.49" text-anchor="middle" fill="#1a1a1a">28</text>
<rect x="237.83" y="401.87" width="3.63" height="96.36" fill="#ffffff" stroke="#1f6f74" stroke-width="1.15"/>
<rect x="242.6" y="404.8" width="3.63" height="93.43" fill="url(#pe1)" stroke="#1f6f74" stroke-width="1.15"/>
<rect x="247.38" y="407.17" width="3.63" height="91.06" fill="#dfe56c" stroke="#1f6f74" stroke-width="1.15"/>
<rect x="252.15" y="403.11" width="3.63" height="95.12" fill="url(#pe2)" stroke="#1f6f74" stroke-width="1.15"/>
<rect x="256.93" y="409.65" width="3.63" height="88.57" fill="#c0d236" stroke="#1f6f74" stroke-width="1.15"/>
<path d="M239.64 406.75V398.13M237.94 398.13H241.34" stroke="#646464" stroke-width="0.85" fill="none"/>
<path d="M244.42 411.49V399.26M242.72 399.26H246.12" stroke="#646464" stroke-width="0.85" fill="none"/>
<path d="M249.19 412.95V402.53M247.49 402.53H250.89" stroke="#646464" stroke-width="0.85" fill="none"/>
<path d="M253.97 409.91V397.46M252.27 397.46H255.67" stroke="#646464" stroke-width="0.85" fill="none"/>
<path d="M258.74 416.79V403.66M257.04 403.66H260.44" stroke="#646464" stroke-width="0.85" fill="none"/>
<text transform="translate(249.19,510.4) scale(0.93,1)" font-size="8.49" text-anchor="middle" fill="#1a1a1a">56</text>
<rect x="269.11" y="446.42" width="3.63" height="51.8" fill="#ffffff" stroke="#1f6f74" stroke-width="1.15"/>
<rect x="273.89" y="412.58" width="3.63" height="85.64" fill="url(#pe1)" stroke="#1f6f74" stroke-width="1.15"/>
<rect x="278.66" y="417.55" width="3.63" height="80.68" fill="#dfe56c" stroke="#1f6f74" stroke-width="1.15"/>
<rect x="283.44" y="412.92" width="3.63" height="85.3" fill="url(#pe2)" stroke="#1f6f74" stroke-width="1.15"/>
<rect x="288.21" y="413.6" width="3.63" height="84.63" fill="#c0d236" stroke="#1f6f74" stroke-width="1.15"/>
<path d="M270.92 451.87V442.13M269.22 442.13H272.62" stroke="#646464" stroke-width="0.85" fill="none"/>
<path d="M275.7 417.8V408.51M274 408.51H277.4" stroke="#646464" stroke-width="0.85" fill="none"/>
<path d="M280.47 419.84V416.41M278.77 416.41H282.17" stroke="#646464" stroke-width="0.85" fill="none"/>
<path d="M285.25 415.55V411.44M283.55 411.44H286.95" stroke="#646464" stroke-width="0.85" fill="none"/>
<path d="M290.03 417.02V411.33M288.33 411.33H291.73" stroke="#646464" stroke-width="0.85" fill="none"/>
<text transform="translate(280.47,510.4) scale(0.93,1)" font-size="8.49" text-anchor="middle" fill="#1a1a1a">28 Dried</text>
<rect x="300.39" y="464.36" width="3.63" height="33.87" fill="#ffffff" stroke="#1f6f74" stroke-width="1.15"/>
<rect x="305.17" y="440.9" width="3.63" height="57.33" fill="url(#pe1)" stroke="#1f6f74" stroke-width="1.15"/>
<rect x="309.95" y="441.57" width="3.63" height="56.65" fill="#dfe56c" stroke="#1f6f74" stroke-width="1.15"/>
<rect x="314.72" y="435.59" width="3.63" height="62.63" fill="url(#pe2)" stroke="#1f6f74" stroke-width="1.15"/>
<rect x="319.5" y="437.62" width="3.63" height="60.6" fill="#c0d236" stroke="#1f6f74" stroke-width="1.15"/>
<path d="M302.21 466.65V463.22M300.51 463.22H303.91" stroke="#646464" stroke-width="0.85" fill="none"/>
<path d="M306.98 447.58V435.36M305.28 435.36H308.68" stroke="#646464" stroke-width="0.85" fill="none"/>
<path d="M311.76 446.23V438.06M310.06 438.06H313.46" stroke="#646464" stroke-width="0.85" fill="none"/>
<path d="M316.53 439.58V432.76M314.83 432.76H318.23" stroke="#646464" stroke-width="0.85" fill="none"/>
<path d="M321.31 446V430.39M319.61 430.39H323.01" stroke="#646464" stroke-width="0.85" fill="none"/>
<text transform="translate(311.76,510.4) scale(0.93,1)" font-size="8.49" text-anchor="middle" fill="#1a1a1a">28 Wet</text>
<text transform="translate(233.55,522.5) scale(0.93,1)" font-size="9.41" text-anchor="middle" fill="#1a1a1a">Testing time, days</text>
<rect x="145.9" y="530.65" width="3.5" height="3.5" fill="#ffffff" stroke="#1f6f74" stroke-width="0.85"/>
<text transform="translate(151.8,535.5) scale(0.93,1)" font-size="8.6" fill="#1a1a1a">CA-REF</text>
<rect x="188.5" y="530.65" width="3.5" height="3.5" fill="#eef0a8" stroke="#1f6f74" stroke-width="0.85"/>
<text transform="translate(193.9,535.5) scale(0.93,1)" font-size="8.6" fill="#1a1a1a">CA-0.5</text>
<rect x="226" y="530.65" width="3.5" height="3.5" fill="#e6ea86" stroke="#1f6f74" stroke-width="0.85"/>
<text transform="translate(231.3,535.5) scale(0.93,1)" font-size="8.6" fill="#1a1a1a">CA-1</text>
<rect x="257.6" y="530.65" width="3.5" height="3.5" fill="#dfe674" stroke="#1f6f74" stroke-width="0.85"/>
<text transform="translate(263.4,535.5) scale(0.93,1)" font-size="8.6" fill="#1a1a1a">CA-1.5</text>
<rect x="295" y="530.65" width="3.5" height="3.5" fill="#c2d43a" stroke="#1f6f74" stroke-width="0.85"/>
<text transform="translate(300.9,535.5) scale(0.93,1)" font-size="8.6" fill="#1a1a1a">CA-2</text>
<text x="216.2" y="547.4" font-size="8.3" font-weight="bold" font-family='Liberation Serif, serif' fill="#1a1a1a" style="stroke:none">(e)</text></svg>
</body></html>
